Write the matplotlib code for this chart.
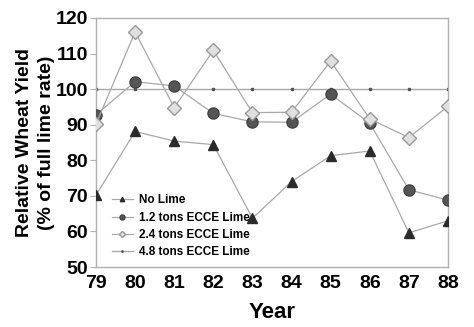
import matplotlib
matplotlib.use('Agg')
import matplotlib.pyplot as plt

plt.rcParams['font.family'] = ['Liberation Sans', 'DejaVu Sans']
plt.rcParams['font.weight'] = 'bold'

years = [79, 80, 81, 82, 83, 84, 85, 86, 87, 88]
no_lime = [70.2, 88.1, 85.4, 84.4, 63.7, 74.0, 81.3, 82.6, 59.6, 63.0]
lime_12 = [92.8, 102.1, 100.9, 93.2, 90.8, 90.7, 98.6, 90.4, 71.7, 68.8]
lime_24 = [90.1, 116.1, 94.8, 110.9, 93.4, 93.5, 107.9, 91.6, 86.4, 95.2]
lime_48 = [100, 100, 100, 100, 100, 100, 100, 100, 100, 100]

line_col = '#a8a8a8'

fig = plt.figure(figsize=(4.74, 3.27), dpi=100)
ax = fig.add_axes([96 / 474, 1 - 267 / 327, 352 / 474, 249 / 327])

ax.plot(years, no_lime, color=line_col, lw=0.9, marker='^', ms=7,
        mfc='#2b2b2b', mec='#2b2b2b', label='No Lime', zorder=3)
ax.plot(years, lime_12, color=line_col, lw=0.9, marker='o', ms=8,
        mfc='#555555', mec='#444444', label='1.2 tons ECCE Lime', zorder=3)
ax.plot(years, lime_24, color=line_col, lw=0.9, marker='D', ms=7,
        mfc='#e0e0e0', mec='#999999', label='2.4 tons ECCE Lime', zorder=3)
ax.plot(years, lime_48, color=line_col, lw=1.0, marker='s', ms=2,
        mfc='#555555', mec='#555555', label='4.8 tons ECCE Lime', zorder=2)

ax.set_xlim(79, 88)
ax.set_ylim(50, 120)
ax.set_xticks(years)
ax.set_yticks(range(50, 121, 10))

for s in ax.spines.values():
    s.set_color('#b0b0b0')
    s.set_linewidth(1.0)

ax.tick_params(axis='y', length=4, color='#b0b0b0', labelsize=14, pad=2)
ax.tick_params(axis='x', length=0, labelsize=14, pad=6)
for lab in ax.get_xticklabels() + ax.get_yticklabels():
    lab.set_fontweight('bold')

ax.set_xlabel('Year', fontsize=16, fontweight='bold', labelpad=7)
ax.set_ylabel('Relative Wheat Yield\n(% of full lime rate)', fontsize=14,
              fontweight='bold', linespacing=1.4, labelpad=0)

leg = ax.legend(loc='lower left', bbox_to_anchor=(0.045, 0.035), frameon=False,
                fontsize=8.5, handlelength=1.8, handletextpad=0.5,
                labelspacing=0.45, markerscale=0.45, borderpad=0,
                borderaxespad=0)
for t in leg.get_texts():
    t.set_fontweight('bold')

fig.savefig('out.png', dpi=100)
